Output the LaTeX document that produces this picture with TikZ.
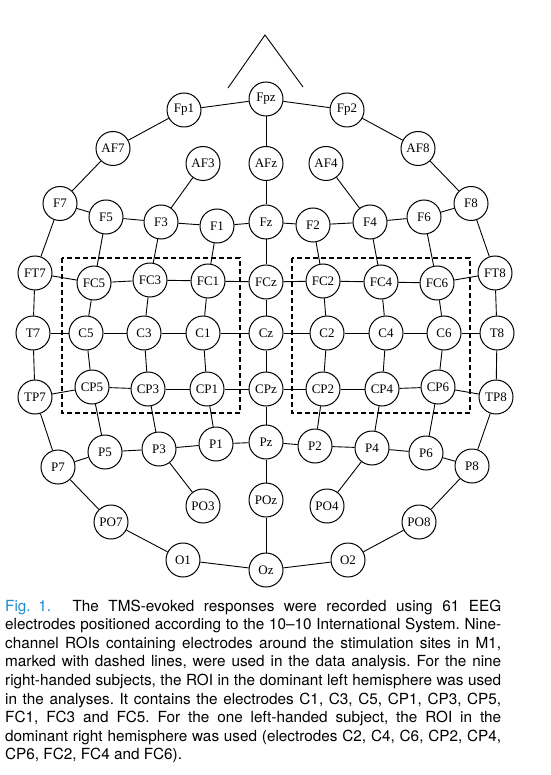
\documentclass[tikz,border=0pt]{standalone}
\usepackage{fontspec}
\setmainfont{Liberation Serif}
\newfontfamily\capfont[Ligatures=TeX]{TeX Gyre Heros}
\definecolor{figblue}{RGB}{25,140,210}
\frenchspacing
\begin{document}
\begin{tikzpicture}[x=1pt,y=-1pt,
  electrode/.style={circle,draw,line width=1pt,minimum size=34pt,inner sep=0pt,
    font=\fontsize{13}{15}\selectfont},
  link/.style={line width=0.9pt},
  roi/.style={line width=1.8pt,dash pattern=on 5pt off 3pt}]
\fill[white] (0,0) rectangle (550,775);
\useasboundingbox (0,0) rectangle (550,775);
% nose
\coordinate (noseL) at (228,88);
\coordinate (noseT) at (265,35);
\coordinate (noseR) at (303,87);
\draw[link] (noseL) -- (noseT) -- (noseR);
% ROI boxes
\coordinate (roiLa) at (62,258);
\coordinate (roiLb) at (240,413);
\coordinate (roiRa) at (292,258);
\coordinate (roiRb) at (470,413);
\draw[roi] (roiLa) rectangle (roiLb);
\draw[roi] (roiRa) rectangle (roiRb);
% electrodes
\foreach \n/\x/\y in {
  Fp1/184/110, Fpz/266/99, Fp2/347/110,
  AF7/113/148.5, AF3/203/163.5, AFz/266/163.5, AF4/326/163.5, AF8/418/148.5,
  F7/60/203.5, F5/106/217, F3/161/222, F1/217/226, Fz/266/222, F2/313/225, F4/370/222, F6/424/217, F8/471/203.5,
  FT7/35/273, FC5/94/283, FC3/150/280, FC1/208/281, FCz/266/282, FC2/323/281, FC4/381/282, FC6/437/283, FT8/495/273,
  T7/33/333, C5/86/333, C3/144/333, C1/203/333, Cz/266/333, C2/327/333, C4/386/333, C6/444/333, T8/497/333,
  TP7/35/397, CP5/92/387, CP3/148/389, CP1/207/389, CPz/266/389, CP2/323/389, CP4/382/389, CP6/438/387, TP8/496/397,
  P7/58/467, P5/105/452, P3/159/449, P1/216/444, Pz/266/442, P2/315/446, P4/372/448, P6/426/453, P8/472/466,
  PO3/203/506, POz/266/500, PO4/327/506,
  PO7/111/522, PO8/419/522,
  O1/183/560, Oz/266/570, O2/348/560}
  \node[electrode] (\n) at (\x,\y) {\n};
% connectors
\draw[link] (Fp1) -- (Fpz) -- (Fp2);
\foreach \a/\b in {Fp1/AF7, AF7/F7, F7/FT7, FT7/T7, T7/TP7, TP7/P7, P7/PO7, PO7/O1, O1/Oz, Oz/O2, O2/PO8, PO8/P8, P8/TP8, TP8/T8, T8/FT8, FT8/F8, F8/AF8, AF8/Fp2,
  Fpz/AFz, AFz/Fz, Fz/FCz, FCz/Cz, Cz/CPz, CPz/Pz, Pz/POz, POz/Oz,
  F7/F5, F5/F3, F3/F1, F1/Fz, Fz/F2, F2/F4, F4/F6, F6/F8,
  AF3/F3, AF4/F4,
  F5/FC5, F3/FC3, F1/FC1, F2/FC2, F4/FC4, F6/FC6,
  FT7/FC5, FC5/FC3, FC3/FC1, FC1/FCz, FCz/FC2, FC2/FC4, FC4/FC6, FC6/FT8,
  FC5/C5, FC3/C3, FC1/C1, FC2/C2, FC4/C4, FC6/C6,
  T7/C5, C5/C3, C3/C1, C1/Cz, Cz/C2, C2/C4, C4/C6, C6/T8,
  C5/CP5, C3/CP3, C1/CP1, C2/CP2, C4/CP4, C6/CP6,
  TP7/CP5, CP5/CP3, CP3/CP1, CP1/CPz, CPz/CP2, CP2/CP4, CP4/CP6, CP6/TP8,
  CP5/P5, CP3/P3, CP1/P1, CP2/P2, CP4/P4, CP6/P6,
  P7/P5, P5/P3, P3/P1, P1/Pz, Pz/P2, P2/P4, P4/P6, P6/P8,
  P3/PO3, P4/PO4}
  \draw[link] (\a) -- (\b);
% caption
\node[anchor=north west,inner sep=0pt,align=left,
  font=\capfont\fontsize{15.3}{18.6}\selectfont] (caption) at (5,599.5) {%
\makebox[496pt][s]{\hbox{\color{figblue}Fig.\hspace{0.5em}1.}\hspace{1.4em}The TMS-evoked responses were recorded using 61 EEG}\\
\makebox[496pt][s]{electrodes positioned according to the 10–10 International System. Nine-}\\
\makebox[496pt][s]{channel ROIs containing electrodes around the stimulation sites in M1,}\\
\makebox[496pt][s]{marked with dashed lines, were used in the data analysis. For the nine}\\
\makebox[496pt][s]{right-handed subjects, the ROI in the dominant left hemisphere was used}\\
\makebox[496pt][s]{in the analyses. It contains the electrodes C1, C3, C5, CP1, CP3, CP5,}\\
\makebox[496pt][s]{FC1, FC3 and FC5. For the one left-handed subject, the ROI in the}\\
\makebox[496pt][s]{dominant right hemisphere was used (electrodes C2, C4, C6, CP2, CP4,}\\
CP6, FC2, FC4 and FC6).};
\end{tikzpicture}
\end{document}
